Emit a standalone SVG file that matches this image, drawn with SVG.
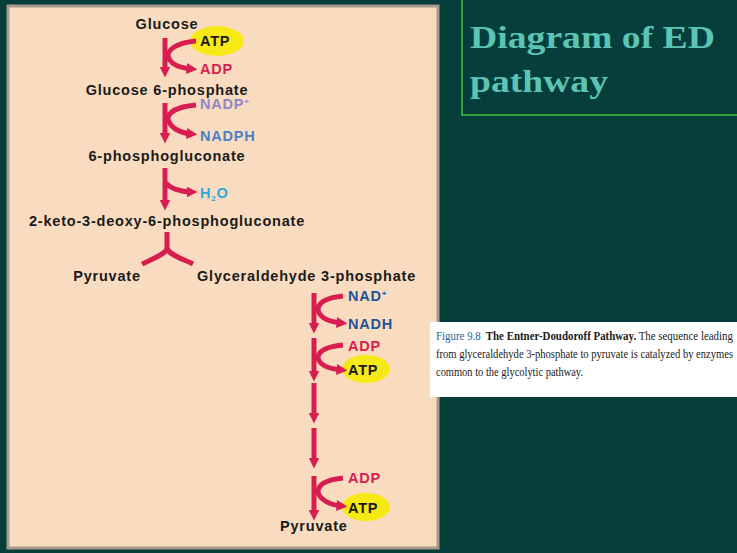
<svg xmlns="http://www.w3.org/2000/svg" width="737" height="553" viewBox="0 0 737 553">
<style>
.t{font-family:"Liberation Sans",Arial,sans-serif;font-size:14.5px;font-weight:bold;letter-spacing:0.8px;fill:#1a1a1a}
.r{fill:#d81e50}
.a{stroke:#d81e50;stroke-width:5;fill:none}
.c{font-family:"Liberation Serif",serif;font-size:13px;fill:#1a1a1a}
</style>
<defs>
<marker id="m" viewBox="0 0 10 10" refX="5" refY="5" markerWidth="2.2" markerHeight="2.2" orient="auto"><path d="M0,0L10,5L0,10Z" fill="#d81e50"/></marker>
</defs>
<rect width="737" height="553" fill="#063e3c"/>
<rect x="8" y="6" width="430" height="542" fill="#f9dcc0" stroke="#a99a8c" stroke-width="3"/>
<rect x="430" y="322" width="307" height="75" fill="#ffffff"/>
<text class="c" x="436" y="340" textLength="297" lengthAdjust="spacingAndGlyphs"><tspan fill="#2a5f9a">Figure 9.8</tspan><tspan font-weight="bold" dx="6">The Entner-Doudoroff Pathway.</tspan> The sequence leading</text>
<text class="c" x="436" y="358" textLength="297" lengthAdjust="spacingAndGlyphs">from glyceraldehyde 3-phosphate to pyruvate is catalyzed by enzymes</text>
<text class="c" x="436" y="376" textLength="147" lengthAdjust="spacingAndGlyphs">common to the glycolytic pathway.</text>
<rect x="462" y="-2" width="280" height="117" fill="none" stroke="#3cc43c" stroke-width="1.5"/>
<text x="470" y="48" font-family="Liberation Serif,serif" font-size="31" font-weight="bold" fill="#5cc4b4" textLength="245" lengthAdjust="spacingAndGlyphs">Diagram of ED</text>
<text x="470" y="92" font-family="Liberation Serif,serif" font-size="31" font-weight="bold" fill="#5cc4b4" textLength="138" lengthAdjust="spacingAndGlyphs">pathway</text>
<g id="ellipses">
<ellipse cx="217" cy="41" rx="27" ry="15" fill="#f6e916"/>
<ellipse cx="366" cy="369" rx="24" ry="14" fill="#f6e916"/>
<ellipse cx="366" cy="507" rx="24" ry="14" fill="#f6e916"/>
</g>
<g id="connectors">
<path class="a" d="M165,38V72" marker-end="url(#m)"/>
<path class="a" d="M196,41C175,43 168,50 168,56C170,64 180,68 192,69" marker-end="url(#m)"/>
<path class="a" d="M165,103V138" marker-end="url(#m)"/>
<path class="a" d="M196,105C175,107 168,113 168,119C170,128 180,133 192,134" marker-end="url(#m)"/>
<path class="a" d="M165,168V205" marker-end="url(#m)"/>
<path class="a" d="M166,183C170,188 180,192 192,192" marker-end="url(#m)"/>
<path class="a" d="M167,232V248C167,253 155,258 142,264"/>
<path class="a" d="M167,248C168,254 180,258 193,264"/>
<path class="a" d="M314,293V328" marker-end="url(#m)"/>
<path class="a" d="M343,296C324,298 318,304 318,310C320,318 330,322 342,323" marker-end="url(#m)"/>
<path class="a" d="M314,338V376" marker-end="url(#m)"/>
<path class="a" d="M343,345C324,347 318,352 318,358C320,366 330,369 342,370" marker-end="url(#m)"/>
<path class="a" d="M314,383V418" marker-end="url(#m)"/>
<path class="a" d="M314,428V463" marker-end="url(#m)"/>
<path class="a" d="M314,476V515" marker-end="url(#m)"/>
<path class="a" d="M343,478C324,480 318,486 318,492C320,500 330,505 342,506" marker-end="url(#m)"/>
</g>
<g id="n-glucose"><text class="t" x="167" y="29" text-anchor="middle">Glucose</text></g>
<g id="n-atp1"><text class="t" x="200" y="46">ATP</text></g>
<g id="n-adp1"><text class="t r" x="200" y="74">ADP</text></g>
<g id="n-g6p"><text class="t" x="167" y="95" text-anchor="middle">Glucose 6-phosphate</text></g>
<g id="n-nadp"><text class="t" x="200" y="109" style="fill:#8f86c6">NADP<tspan font-size="8" dy="-5">+</tspan></text></g>
<g id="n-nadph"><text class="t" x="200" y="141" style="fill:#4a82c4">NADPH</text></g>
<g id="n-6pg"><text class="t" x="167" y="161" text-anchor="middle">6-phosphogluconate</text></g>
<g id="n-h2o"><text class="t" x="200" y="198" style="fill:#2fa8dc">H<tspan font-size="8" dy="3">2</tspan><tspan dy="-3">O</tspan></text></g>
<g id="n-kdpg"><text class="t" x="167" y="226" text-anchor="middle">2-keto-3-deoxy-6-phosphogluconate</text></g>
<g id="n-pyr1"><text class="t" x="107" y="281" text-anchor="middle">Pyruvate</text></g>
<g id="n-g3p"><text class="t" x="197" y="281">Glyceraldehyde 3-phosphate</text></g>
<g id="n-nad"><text class="t" x="348" y="301" style="fill:#1f5496">NAD<tspan font-size="8" dy="-5">+</tspan></text></g>
<g id="n-nadh"><text class="t" x="348" y="329" style="fill:#1f5496">NADH</text></g>
<g id="n-adp2"><text class="t r" x="348" y="351">ADP</text></g>
<g id="n-atp2"><text class="t" x="348" y="375">ATP</text></g>
<g id="n-adp3"><text class="t r" x="348" y="483">ADP</text></g>
<g id="n-atp3"><text class="t" x="348" y="513">ATP</text></g>
<g id="n-pyr2"><text class="t" x="280" y="531">Pyruvate</text></g>
</svg>
